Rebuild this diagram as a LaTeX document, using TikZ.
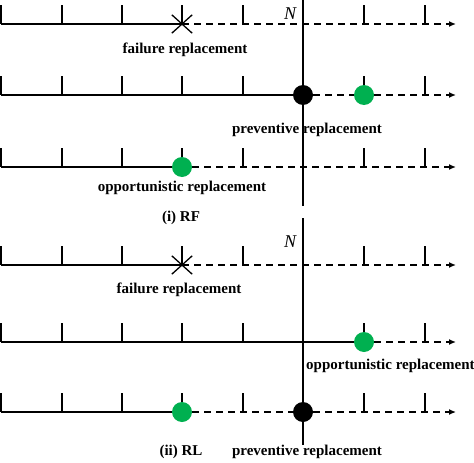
\documentclass[tikz,border=0pt]{standalone}
\usepackage{fontspec}
\setmainfont{Liberation Serif}
\usetikzlibrary{arrows.meta,shapes.misc}
\definecolor{repgreen}{RGB}{0,176,80}
\tikzset{
	axis/.style={line width=1.3pt},
	dashline/.style={line width=1.3pt, dash pattern=on 7pt off 5pt},
	future/.style={dashline, -{Latex[length=7pt,width=6pt]}},
	ticksty/.style={line width=1.2pt},
	firsttick/.style={line width=2pt},
	gdot/.style={circle, fill=repgreen, minimum size=20pt, inner sep=0pt},
	bdot/.style={circle, fill=black, minimum size=20pt, inner sep=0pt},
	fail/.style={cross out, draw, line width=1.3pt, minimum width=19pt, minimum height=17pt, inner sep=0pt},
	lbl/.style={font=\bfseries\fontsize{15}{15}\selectfont, inner sep=0pt},
	nlbl/.style={font=\itshape\fontsize{18}{18}\selectfont, inner sep=0pt}
}
\begin{document}
\begin{tikzpicture}[x=1pt,y=-1pt]
	\useasboundingbox (0,0) rectangle (474,463);

	% (i) RF
	\coordinate (ntop1) at (303,0);
	\coordinate (nbot1) at (303,206);
	\draw[line width=1.4pt] (ntop1) -- (nbot1);
	\node[nlbl] (n1) at (290,14) {N};

	% failure
	\coordinate (s1) at (1,24);
	\coordinate (e1) at (456,24);
	\foreach \x in {62,122,182,243,364,425}
		\draw[ticksty] (\x,24) -- ++(0,-19);
	\draw[firsttick] (s1) -- ++(0,-19);
	\node[fail] (f1) at (182,24) {};
	\draw[axis] (s1) -- (f1.center);
	\draw[future] (f1.center) -- (e1);
	\node[lbl] (f1l) at (185,50) {failure replacement};

	% preventive
	\coordinate (s2) at (1,95);
	\coordinate (e2) at (456,95);
	\foreach \x in {62,122,182,243,364,425}
		\draw[ticksty] (\x,95) -- ++(0,-19);
	\draw[firsttick] (s2) -- ++(0,-19);
	\node[bdot] (p2) at (303,95) {};
	\node[gdot] (g2) at (364,95) {};
	\draw[axis] (s2) -- (p2);
	\draw[dashline] (p2) -- (g2);
	\draw[future] (g2) -- (e2);
	\node[lbl] (p2l) at (307,130) {preventive replacement};

	% opportunistic
	\coordinate (s3) at (1,167);
	\coordinate (e3) at (456,167);
	\foreach \x in {62,122,182,243,364,425}
		\draw[ticksty] (\x,167) -- ++(0,-19);
	\draw[firsttick] (s3) -- ++(0,-19);
	\node[gdot] (g3) at (182,167) {};
	\draw[axis] (s3) -- (g3);
	\draw[future] (g3) -- (e3);
	\node[lbl] (g3l) at (182,188) {opportunistic replacement};

	\node[lbl] (rf) at (181,218) {(i) RF};

	% (ii) RL
	\coordinate (ntop2) at (303,218);
	\coordinate (nbot2) at (303,445);
	\draw[line width=1.4pt] (ntop2) -- (nbot2);
	\node[nlbl] (n2) at (290,242) {N};

	% failure
	\coordinate (s4) at (1,265);
	\coordinate (e4) at (456,265);
	\foreach \x in {62,122,182,243,364,425}
		\draw[ticksty] (\x,265) -- ++(0,-19);
	\draw[firsttick] (s4) -- ++(0,-19);
	\node[fail] (f4) at (182,265) {};
	\draw[axis] (s4) -- (f4.center);
	\draw[future] (f4.center) -- (e4);
	\node[lbl] (f4l) at (179,290) {failure replacement};

	% opportunistic
	\coordinate (s5) at (1,342);
	\coordinate (e5) at (456,342);
	\foreach \x in {62,122,182,243,364,425}
		\draw[ticksty] (\x,342) -- ++(0,-19);
	\draw[firsttick] (s5) -- ++(0,-19);
	\node[gdot] (g5) at (364,342) {};
	\draw[axis] (s5) -- (g5);
	\draw[future] (g5) -- (e5);
	\node[lbl, anchor=west] (g5l) at (306,366) {opportunistic replacement};

	% preventive
	\coordinate (s6) at (1,412);
	\coordinate (e6) at (456,412);
	\foreach \x in {62,122,182,243,364,425}
		\draw[ticksty] (\x,412) -- ++(0,-19);
	\draw[firsttick] (s6) -- ++(0,-19);
	\node[gdot] (g6) at (182,412) {};
	\node[bdot] (p6) at (303,412) {};
	\draw[axis] (s6) -- (g6);
	\draw[dashline] (g6) -- (p6);
	\draw[future] (p6) -- (e6);
	\node[lbl] (p6l) at (307,452) {preventive replacement};

	\node[lbl] (rl) at (181,452) {(ii) RL};
\end{tikzpicture}
\end{document}
